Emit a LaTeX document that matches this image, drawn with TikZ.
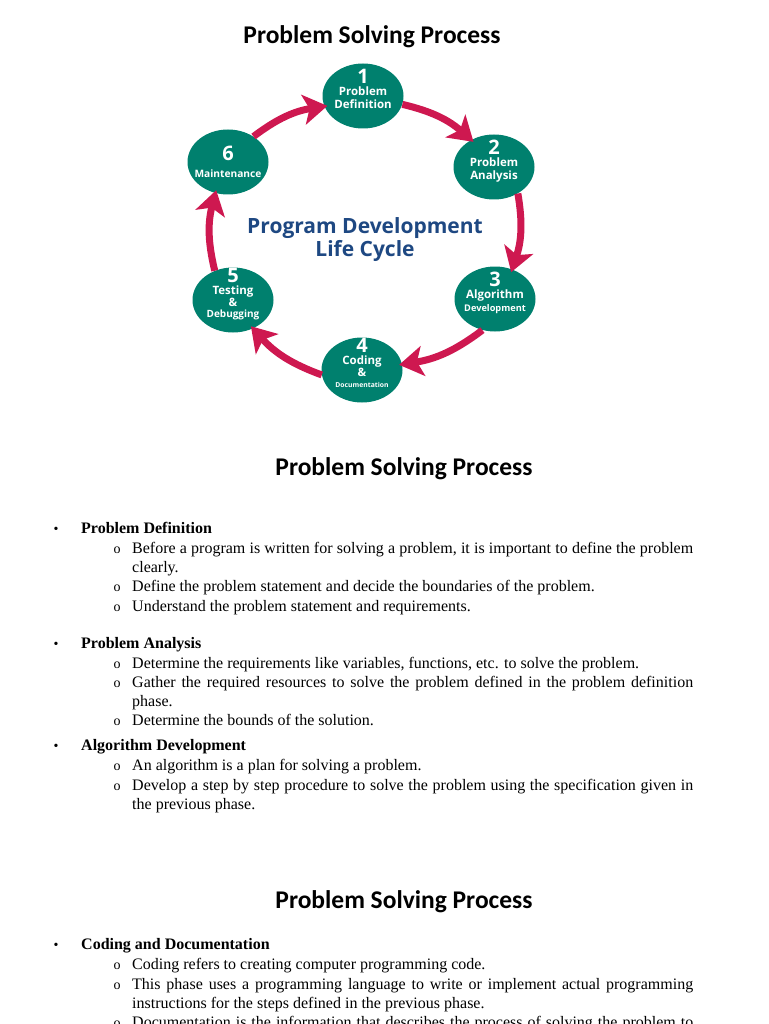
\documentclass[tikz,border=0pt]{standalone}
\usepackage{fontspec}
\setmainfont{Liberation Serif}
\newfontfamily\titlefont{Carlito}
\newfontfamily\diagfont{Open Sans}
\usetikzlibrary{shapes.geometric,arrows.meta}
\definecolor{teal1}{RGB}{0,128,110}
\definecolor{crim}{RGB}{206,24,80}
\definecolor{pdlc}{RGB}{30,72,130}
\tikzset{
  phase/.style={ellipse,fill=teal1,minimum width=81pt,minimum height=65pt,inner xsep=-14pt,inner ysep=-10pt,
    text=white,align=center,font=\diagfont\bfseries\fontsize{11.5}{12.5}\selectfont},
  cyc/.style={draw=crim,line width=7pt,-{Stealth[length=24pt,width=30pt,inset=6pt]},shorten >=-3pt},
  ttl/.style={font=\titlefont\bfseries\fontsize{25.5}{28}\selectfont,anchor=base},
  head/.style={anchor=base west,inner sep=0pt,font=\bfseries\fontsize{16}{18}\selectfont},
  txt/.style={anchor=base west,inner sep=0pt,font=\fontsize{16}{18}\selectfont},
  dot/.style={anchor=base,inner sep=0pt,font=\fontsize{14}{16}\selectfont},
}
\newcommand{\jl}[1]{\makebox[561pt][s]{#1}}
\newcommand{\num}[1]{{\fontsize{20}{14}\selectfont #1}}
\begin{document}
\begin{tikzpicture}[x=1pt,y=1pt]
\useasboundingbox[fill=white] (0,0) rectangle (768,-1024);
% titles
\node[ttl] (t1) at (372,-44) {Problem Solving Process};
\node[ttl] (t2) at (404,-475) {Problem Solving Process};
\node[ttl] (t3) at (404,-908) {Problem Solving Process};
% diagram
\node[phase] (n1) at (363,-96) {\num{1}\\Problem\\Definition\\[2pt]};
\node[phase] (n2) at (494,-167) {\num{2}\\Problem\\Analysis\\[2pt]};
\node[phase] (n3) at (495,-299) {\num{3}\\Algorithm\\{\fontsize{9.2}{10}\selectfont Development}\\[2pt]};
\node[phase] (n4) at (362,-370) {\num{4}\\Coding\\[-1pt]\&\\[-1pt]{\fontsize{6.8}{8}\selectfont Documentation}\\[2pt]};
\node[phase] (n5) at (233,-300) {\num{5}\\Testing\\[-1pt]\&\\[-1pt]{\fontsize{10}{11}\selectfont Debugging}\\[2pt]};
\node[phase] (n6) at (228,-162) {\num{6}\\[5pt]{\fontsize{10.2}{12}\selectfont Maintenance}};
\node[text=pdlc,align=center,font=\diagfont\bfseries\fontsize{21}{23}\selectfont] (pd) at (365,-240) {Program Development\\Life Cycle};
\draw[cyc] (n6.45) to[bend left=14] (n1.195);
\draw[cyc] (n1.-12) to[bend left=14] (n2.130);
\draw[cyc] (n2.-48) to[bend left=14] (n3.60);
\draw[cyc] (n3.-112) to[bend left=14] (n4.8);
\draw[cyc] (n4.187) to[bend left=14] (n5.-55);
\draw[cyc] (n5.122) to[bend left=14] (n6.-112);
% section 1
\node[dot] (b1) at (56,-533) {\textbullet};
\node[head] (h1) at (81,-533) {Problem Definition};
\node[dot] (o11) at (117,-553) {o};
\node[txt] (l11) at (132,-553) {\jl{Before a program is written for solving a problem, it is important to define the problem}};
\node[txt] (l12) at (132,-572) {clearly.};
\node[dot] (o12) at (117,-591) {o};
\node[txt] (l13) at (132,-591) {Define the problem statement and decide the boundaries of the problem.};
\node[dot] (o13) at (117,-611) {o};
\node[txt] (l14) at (132,-611) {Understand the problem statement and requirements.};
% section 2
\node[dot] (b2) at (56,-648) {\textbullet};
\node[head] (h2) at (81,-648) {Problem Analysis};
\node[dot] (o21) at (117,-668) {o};
\node[txt] (l21) at (132,-668) {Determine the requirements like variables, functions, etc. to solve the problem.};
\node[dot] (o22) at (117,-687) {o};
\node[txt] (l22) at (132,-687) {\jl{Gather the required resources to solve the problem defined in the problem definition}};
\node[txt] (l23) at (132,-706) {phase.};
\node[dot] (o23) at (117,-725) {o};
\node[txt] (l24) at (132,-725) {Determine the bounds of the solution.};
% section 3
\node[dot] (b3) at (56,-750) {\textbullet};
\node[head] (h3) at (81,-750) {Algorithm Development};
\node[dot] (o31) at (117,-770) {o};
\node[txt] (l31) at (132,-770) {An algorithm is a plan for solving a problem.};
\node[dot] (o32) at (117,-790) {o};
\node[txt] (l32) at (132,-790) {\jl{Develop a step by step procedure to solve the problem using the specification given in}};
\node[txt] (l33) at (132,-809) {the previous phase.};
% section 4
\node[dot] (b4) at (56,-949) {\textbullet};
\node[head] (h4) at (81,-949) {Coding and Documentation};
\node[dot] (o41) at (117,-969) {o};
\node[txt] (l41) at (132,-969) {Coding refers to creating computer programming code.};
\node[dot] (o42) at (117,-989) {o};
\node[txt] (l42) at (132,-989) {\jl{This phase uses a programming language to write or implement actual programming}};
\node[txt] (l43) at (132,-1008) {instructions for the steps defined in the previous phase.};
\node[dot] (o43) at (117,-1027) {o};
\node[txt] (l44) at (132,-1027) {\jl{Documentation is the information that describes the process of solving the problem to}};
\end{tikzpicture}
\end{document}
